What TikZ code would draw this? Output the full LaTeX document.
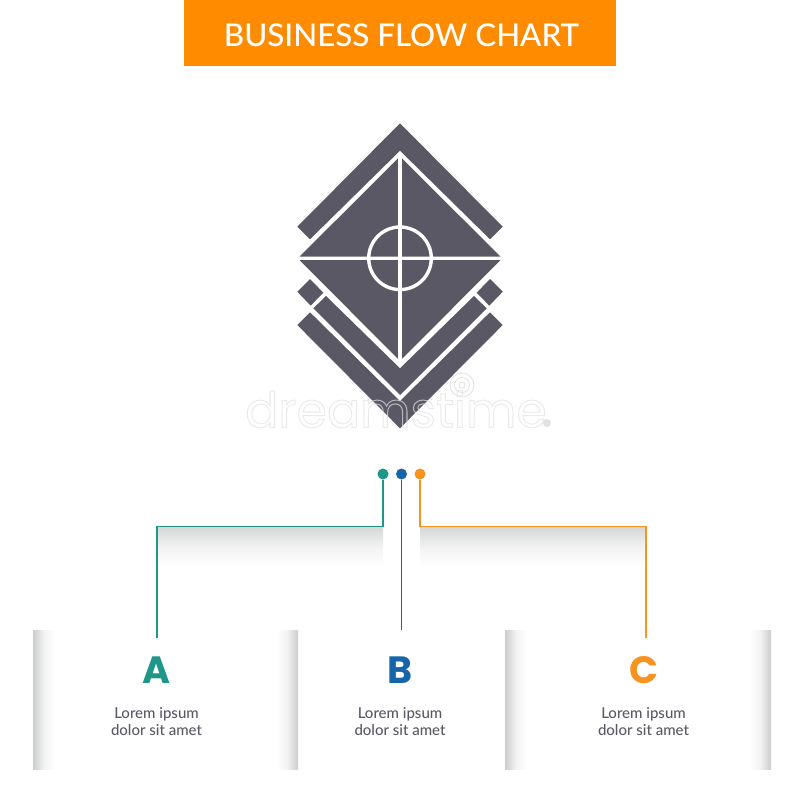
\documentclass[tikz,border=0pt]{standalone}
\usepackage{fontspec}
\setmainfont{Lato Medium}
\newfontfamily\headfont{Lato Medium}
\newfontfamily\letterfont{Poppins}
\usetikzlibrary{calc}
\definecolor{hdr}{HTML}{FF8C00}
\definecolor{ink}{HTML}{5B5865}
\definecolor{teal}{HTML}{1E9688}
\definecolor{blu}{HTML}{1565A8}
\definecolor{org}{HTML}{F7931E}
\definecolor{shade}{HTML}{CCCDCD}
\definecolor{wm}{HTML}{E2E2E2}
\tikzset{
  dotn/.style={circle,inner sep=0pt,minimum size=11pt,fill=#1},
  wire/.style={draw=#1,line width=1.5pt},
  icon/.style={fill=ink,draw=none},
  cut/.style={draw=white,line width=3.4pt},
  letter/.style={font=\letterfont\bfseries\fontsize{38}{38}\selectfont,text=#1,inner sep=0pt},
  lorem/.style={font=\fontsize{15}{16.5}\selectfont,text=ink,align=center,inner sep=0pt},
  hdrtext/.style={font=\headfont\fontsize{31.3}{31.3}\selectfont,text=white,inner sep=0pt},
  vfade/.style={top color=shade!80!white,bottom color=white,middle color=shade!25!white},
  lfade/.style={left color=shade,right color=white,middle color=shade!25!white},
  rfade/.style={right color=shade,left color=white,middle color=shade!25!white},
  wmark/.style={font=\letterfont\fontsize{49}{49}\selectfont,text=wm,inner sep=0pt}
}
\begin{document}
\begin{tikzpicture}[x=1pt,y=-1pt]
\useasboundingbox (0,0) rectangle (800,800);
\fill[white] (0,0) rectangle (800,800);
% header
\node[fill=hdr,minimum width=432pt,minimum height=66pt,inner sep=0pt,anchor=north west] (header) at (184,0) {};
\node[hdrtext] (title) at (401.5,35.5) {BUSINESS FLOW CHART};
% icon
\fill[icon] (400,123.3)--(502.7,226.7)--(490,239.3)--(400,150.7)--(310,239.3)--(297.3,226.7)--cycle;
\fill[icon] (400,156.5)--(500.5,256.6)--(299.5,256.6)--cycle;
\fill[icon] (299.5,260)--(500.5,260)--(400,361)--cycle;
\draw[cut] (400,154)--(400,364);
\draw[cut] (400,258.3) circle (31.3);
\fill[icon] (313.3,308.3)--(326,296)--(400,368.3)--(474,296)--(486.7,308.3)--(400,395)--cycle;
\fill[icon] (297.3,291.7)--(310,279)--(323.3,292.7)--(310.7,305.7)--cycle;
\fill[icon] (502.7,291.7)--(490,279)--(476.7,292.7)--(489.3,305.7)--cycle;
\fill[icon] (297.3,325)--(310,312.3)--(400,401)--(490,312.3)--(502.7,325)--(400,428.3)--cycle;
% watermark
\node[wmark,opacity=.7] (wmtext) at (396,409) {\special{pdf:code 1 Tr 1 w}dreamstime\special{pdf:code 0 Tr}};
\draw[wm,line width=.8pt] (462,385) circle (12) (462,385) circle (7.5) (462,385) circle (3);
\fill[wm] (547,423) circle (4);
% gradients
\shade[vfade] (157,527) rectangle (383,567);
\shade[vfade] (420,527) rectangle (646,567);
\shade[lfade] (33,630) rectangle (55,769);
\shade[rfade] (276,630) rectangle (298,769);
\shade[lfade] (505,630) rectangle (527,769);
\shade[rfade] (749,630) rectangle (771,769);
% dots
\node[dotn=teal] (d1) at (383,474) {};
\node[dotn=blu] (d2) at (401.5,474) {};
\node[dotn=org] (d3) at (420,474) {};
\coordinate (e1) at (157,638);
\coordinate (e2) at (401.5,630);
\coordinate (e3) at (646,638);
\draw[wire=teal] (d1) |- (157,526.5) -- (e1);
\draw[wire=blu] (d2) -- (e2);
\draw[wire=org] (d3) |- (646,526.5) -- (e3);
% labels
\node[letter=teal] (la) at (156.5,670) {A};
\node[letter=blu] (lb) at (400.5,670) {B};
\node[letter=org] (lc) at (643.5,670) {C};
\node[lorem] (ta) at (156.5,721.5) {Lorem ipsum\\dolor sit amet};
\node[lorem] (tb) at (400,721.5) {Lorem ipsum\\dolor sit amet};
\node[lorem] (tc) at (643.5,721.5) {Lorem ipsum\\dolor sit amet};
\end{tikzpicture}
\end{document}
